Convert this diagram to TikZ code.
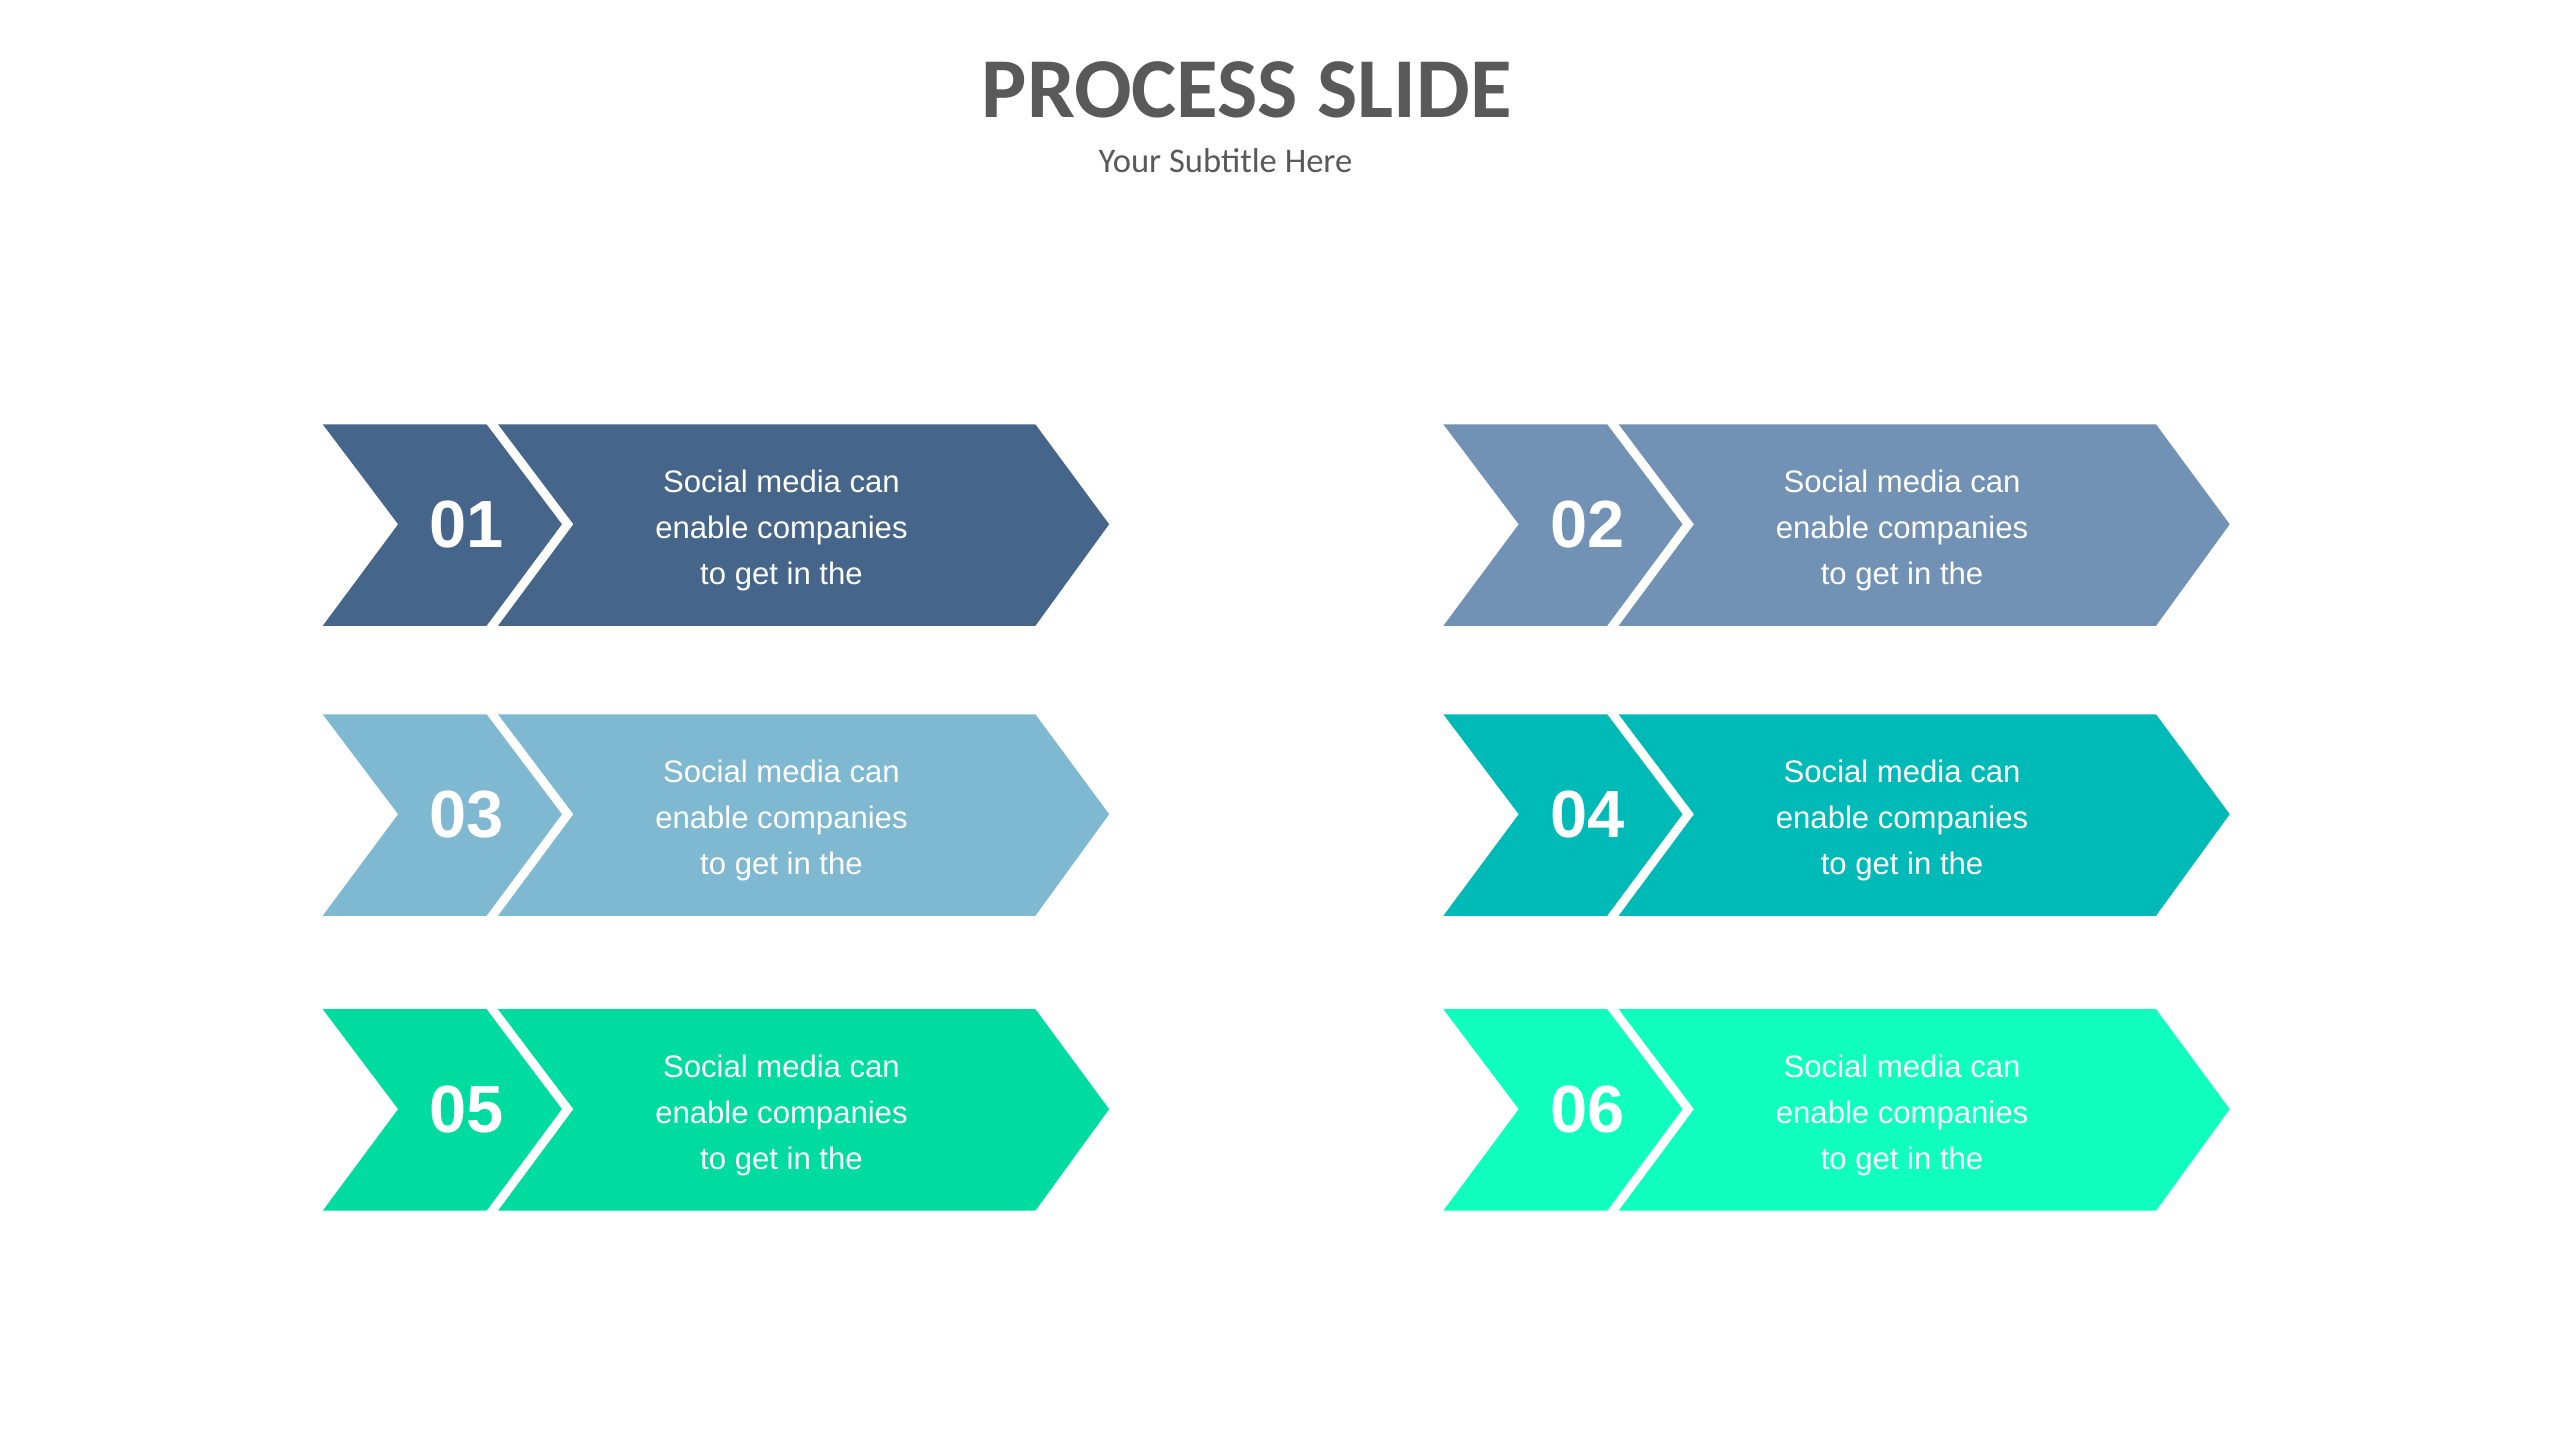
\documentclass[tikz,border=0pt]{standalone}
\usepackage{fontspec}
\setmainfont{Liberation Sans}
\newfontfamily\titlefont{Carlito}
\usetikzlibrary{positioning}
\definecolor{stepA}{HTML}{46658A}
\definecolor{stepB}{HTML}{7191B5}
\definecolor{stepC}{HTML}{7FB8D1}
\definecolor{stepD}{HTML}{00BAB8}
\definecolor{stepE}{HTML}{00DBA0}
\definecolor{stepF}{HTML}{10FFBF}
\definecolor{titlegray}{HTML}{595959}

\begin{document}
\begin{tikzpicture}[x=0.05cm,y=-0.05cm,
                num node/.style={text=white,font=\bfseries\fontsize{58}{60}\selectfont},
                text node/.style={text=white,align=center,font=\fontsize{27}{40}\selectfont}]
                \useasboundingbox (0,0) rectangle (1562,879);
                \node[text=titlegray,font=\titlefont\bfseries\fontsize{74}{80}\selectfont] (title) at (761,55) {PROCESS SLIDE};
                \node[text=titlegray,font=\titlefont\fontsize{30}{34}\selectfont] (subtitle) at (748,98) {Your Subtitle Here};
                
                \foreach \n/\c/\dx/\y in {01/stepA/0/320, 02/stepB/684/320, 03/stepC/0/497,
                                          04/stepD/684/497, 05/stepE/0/677, 06/stepF/684/677}{
                  \begin{scope}[xshift=\dx*0.05cm]
                    \fill[\c] (197,\y-61) -- (297,\y-61) -- (343,\y) -- (297,\y+62)
                              -- (197,\y+62) -- (243,\y) -- cycle;
                    \fill[\c] (304,\y-61) -- (632,\y-61) -- (677,\y) -- (632,\y+62)
                              -- (304,\y+62) -- (350,\y) -- cycle;
                    \node[num node] (num\n) at (285,\y) {\n};
                    \node[text node] (txt\n) at (477,\y+4) {Social media can\\enable companies\\to get in the};
                  \end{scope}
                }
                \end{tikzpicture}
\end{document}
